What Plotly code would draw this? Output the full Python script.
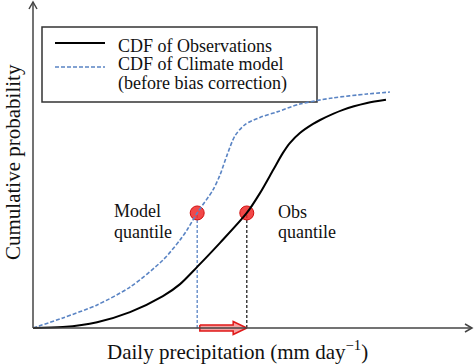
import plotly.graph_objects as go

# ---- data (arbitrary units) ----
obs_x = [0, 0.68, 1.46, 2.21, 2.96, 3.35, 3.74, 4.26, 4.87, 5.17, 5.47, 5.69, 5.85, 6.08, 6.38, 6.54, 7.06, 7.61, 8.04]
obs_y = [0, 0.003, 0.018, 0.049, 0.098, 0.135, 0.188, 0.262, 0.354, 0.415, 0.486, 0.538, 0.569, 0.600, 0.628, 0.640, 0.671, 0.692, 0.702]

mod_x = [0, 0.68, 1.46, 2.21, 2.96, 3.35, 3.51, 3.74, 4.10, 4.26, 4.42, 4.60, 4.83, 5.17, 5.56, 6.08, 6.83, 7.61, 8.13]
mod_y = [0, 0.031, 0.071, 0.126, 0.209, 0.271, 0.302, 0.354, 0.425, 0.471, 0.532, 0.591, 0.626, 0.648, 0.665, 0.689, 0.708, 0.720, 0.726]

quant_x = [3.74, 4.87]      # model quantile, obs quantile
quant_y = [0.354, 0.354]

arrow_x = [3.80, 4.56, 4.56, 4.87, 4.56, 4.56, 3.80, 3.80]
arrow_y = [0.0092, 0.0092, 0.020, 0.0, -0.020, -0.0092, -0.0092, 0.0092]

W, H = 474, 364
L, R, T, B = 23, 0, 0, 26
XU, YU = 43.9, 325.0           # pixels per data unit
X0, Y0 = 33, 328               # pixel of data origin

def xp(px):
    return (px - L) / (W - L - R)

def yp(py):
    return (H - B - py) / (H - B - T)

def dx(px):
    return (px - X0) / XU

def dy(py):
    return (Y0 - py) / YU

FONT = "Liberation Serif, Times New Roman, serif"
BLUE = "#5a84c4"
AX = "#444444"

fig = go.Figure()

# vertical dashed guides
fig.add_trace(go.Scatter(x=[quant_x[0], quant_x[0]], y=[0, quant_y[0]], mode="lines",
                         line=dict(color=BLUE, width=1.3, dash="3px,2px"), showlegend=False))
fig.add_trace(go.Scatter(x=[quant_x[1], quant_x[1]], y=[0, quant_y[1]], mode="lines",
                         line=dict(color="#222222", width=1.3, dash="3px,2px"), showlegend=False))

# quantile markers
fig.add_trace(go.Scatter(x=quant_x, y=quant_y, mode="markers",
                         marker=dict(size=14, color="rgba(240,40,40,0.85)",
                                     line=dict(color="#d01010", width=1)),
                         showlegend=False))

# curves
fig.add_trace(go.Scatter(x=mod_x, y=mod_y, mode="lines",
                         line=dict(color=BLUE, width=1.6, dash="4px,2px", shape="spline", smoothing=0.8),
                         showlegend=False))
fig.add_trace(go.Scatter(x=obs_x, y=obs_y, mode="lines",
                         line=dict(color="black", width=2, shape="spline", smoothing=0.8),
                         showlegend=False))

# shift arrow
fig.add_trace(go.Scatter(x=arrow_x, y=arrow_y, mode="lines", fill="toself",
                         fillcolor="#f5a3a3", line=dict(color="#e01818", width=1.5),
                         showlegend=False))

shapes = []
# axes with arrowheads
shapes.append(dict(type="line", xref="x", yref="y", x0=0, y0=0, x1=dx(472), y1=0,
                   line=dict(color=AX, width=1.5)))
shapes.append(dict(type="line", xref="x", yref="y", x0=0, y0=0, x1=0, y1=dy(2),
                   line=dict(color=AX, width=1.5)))
shapes.append(dict(type="path", xref="x", yref="y",
                   path=f"M{dx(465)},{dy(324)} L{dx(472)},{dy(328)} L{dx(465)},{dy(332)}",
                   line=dict(color=AX, width=1.5)))
shapes.append(dict(type="path", xref="x", yref="y",
                   path=f"M{dx(29)},{dy(9)} L{dx(33)},{dy(2)} L{dx(37)},{dy(9)}",
                   line=dict(color=AX, width=1.5)))

# legend box
shapes.append(dict(type="rect", xref="x", yref="y", x0=dx(42), y0=dy(102), x1=dx(317), y1=dy(27),
                   line=dict(color="#333333", width=1.5), fillcolor="white", layer="below"))
shapes.append(dict(type="line", xref="x", yref="y", x0=dx(55), y0=dy(43), x1=dx(105), y1=dy(43),
                   line=dict(color="black", width=2)))
shapes.append(dict(type="line", xref="x", yref="y", x0=dx(55), y0=dy(67), x1=dx(105), y1=dy(67),
                   line=dict(color=BLUE, width=1.6, dash="4px,2px")))

ann = []
def txt(s, px, py, size=18, anchor="left", angle=0):
    ann.append(dict(text=s, xref="paper", yref="paper", x=xp(px), y=yp(py),
                    xanchor=anchor, yanchor="middle", showarrow=False, textangle=angle,
                    font=dict(family=FONT, size=size, color="#111111")))

txt("CDF of Observations", 116, 46)
txt("CDF of Climate model", 116, 64)
txt("(before bias correction)", 116, 83)
txt("Model", 112, 211)
txt("quantile", 112, 232)
txt("Obs", 276, 212)
txt("quantile", 276, 232)
txt("Daily precipitation (mm day<sup>\u22121</sup>)", 237, 350, size=21, anchor="center")
txt("Cumulative probability", 13, 162, size=21, anchor="center", angle=-90)

fig.update_layout(
    width=W, height=H,
    margin=dict(l=L, r=R, t=T, b=B),
    paper_bgcolor="white", plot_bgcolor="white",
    xaxis=dict(range=[dx(L), dx(W - R)], visible=False, fixedrange=True),
    yaxis=dict(range=[dy(H - B), dy(T)], visible=False, fixedrange=True),
    shapes=shapes, annotations=ann, showlegend=False,
)

fig.write_html("out.html", config={"displayModeBar": False},
               post_script="document.body.style.margin='0';document.body.style.overflow='hidden';")
